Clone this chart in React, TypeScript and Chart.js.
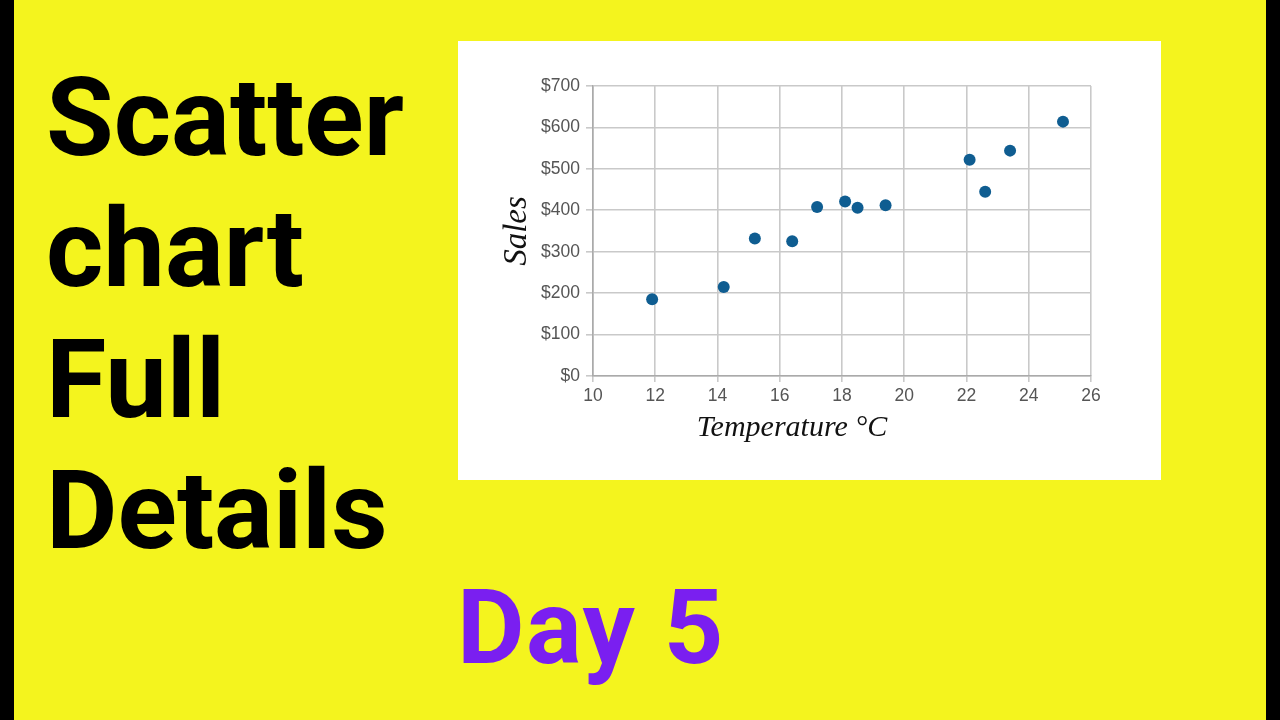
import React, { useEffect, useRef } from "react";
import { Chart, registerables } from "chart.js";

Chart.register(...registerables);

// Data
const temperatures = [14.2, 16.4, 11.9, 15.2, 18.5, 22.1, 19.4, 25.1, 23.4, 18.1, 22.6, 17.2];
const sales = [215, 325, 185, 332, 406, 522, 412, 614, 544, 421, 445, 408];
const xTickValues = [10, 12, 14, 16, 18, 20, 22, 24, 26];
const yTickValues = [0, 100, 200, 300, 400, 500, 600, 700];
const headingLines = ["Scatter", "chart", "Full", "Details"];
const dayLabel = "Day 5";
const xTitle = "Temperature \u00B0C";
const yTitle = "Sales";

const PANEL_W = 703;
const PANEL_H = 439;

export default function App() {
  const canvasRef = useRef<HTMLCanvasElement | null>(null);

  useEffect(() => {
    const canvas = canvasRef.current;
    if (!canvas) return;
    const tickFont = { family: "'Liberation Sans', Arial, sans-serif", size: 17.5 };
    const chart = new Chart(canvas, {
      type: "scatter",
      data: {
        datasets: [
          {
            label: "Sales",
            data: temperatures.map((t, i) => ({ x: t, y: sales[i] })),
            backgroundColor: "#0f5d91",
            borderColor: "#0f5d91",
            borderWidth: 0,
            pointRadius: 6,
            pointHoverRadius: 6,
          },
        ],
      },
      options: {
        animation: false,
        responsive: false,
        maintainAspectRatio: false,
        layout: { padding: { left: 0, top: 45, right: 70, bottom: 0 } },
        plugins: {
          legend: { display: false },
          tooltip: { enabled: false },
        },
        scales: {
          x: {
            type: "linear",
            min: xTickValues[0],
            max: xTickValues[xTickValues.length - 1],
            ticks: {
              stepSize: xTickValues[1] - xTickValues[0],
              font: tickFont,
              color: "#555",
              padding: 4,
            },
            grid: { color: "#c9c9c9", lineWidth: 1.6, tickLength: 6 },
            border: { color: "#aaaaaa", width: 1.6 },
            afterFit: (s: any) => {
              s.height = 104;
            },
          },
          y: {
            type: "linear",
            min: yTickValues[0],
            max: yTickValues[yTickValues.length - 1],
            ticks: {
              stepSize: yTickValues[1] - yTickValues[0],
              font: tickFont,
              color: "#555",
              padding: 6,
              callback: (v: any) => "$" + v,
            },
            grid: { color: "#c9c9c9", lineWidth: 1.6, tickLength: 7 },
            border: { color: "#aaaaaa", width: 1.6 },
            title: {
              display: true,
              text: yTitle,
              color: "#111",
              font: { family: "'Liberation Serif', 'Times New Roman', serif", size: 33, style: "italic" },
              padding: { top: 40, bottom: 0 },
            },
            afterFit: (s: any) => {
              s.width = 135;
            },
          },
        },
      },
    } as any);
    return () => chart.destroy();
  }, []);

  return (
    <div
      style={{
        position: "fixed",
        left: 0,
        top: 0,
        width: 1280,
        height: 720,
        background: "#000",
        overflow: "hidden",
      }}
    >
      <div
        style={{
          position: "absolute",
          left: 14,
          top: 0,
          width: 1252,
          height: 720,
          background: "#f4f41e",
        }}
      />
      <div
        style={{
          position: "absolute",
          left: 46,
          top: 52,
          fontFamily: "Roboto, 'Noto Sans', sans-serif",
          fontWeight: 700,
          fontSize: 110,
          lineHeight: "131px",
          color: "#000",
          whiteSpace: "nowrap",
        }}
      >
        {headingLines.map((l, i) => (
          <div key={i}>{l}</div>
        ))}
      </div>
      <div
        style={{
          position: "absolute",
          left: 457,
          top: 576,
          fontFamily: "Roboto, 'Noto Sans', sans-serif",
          fontWeight: 700,
          fontSize: 104,
          lineHeight: "104px",
          letterSpacing: 1.5,
          color: "#7a1ff0",
          whiteSpace: "nowrap",
        }}
      >
        {dayLabel}
      </div>
      <div
        style={{
          position: "absolute",
          left: 458,
          top: 41,
          width: PANEL_W,
          height: PANEL_H,
          background: "#fff",
        }}
      >
        <canvas
          ref={canvasRef}
          width={PANEL_W}
          height={PANEL_H}
          style={{ width: PANEL_W, height: PANEL_H, display: "block" }}
        />
      </div>
      <div
        style={{
          position: "absolute",
          left: 792,
          top: 426,
          transform: "translate(-50%, -50%)",
          fontFamily: "'Liberation Serif', 'Times New Roman', serif",
          fontStyle: "italic",
          fontSize: 30,
          lineHeight: 1,
          color: "#111",
          whiteSpace: "nowrap",
        }}
      >
        {xTitle}
      </div>
    </div>
  );
}
